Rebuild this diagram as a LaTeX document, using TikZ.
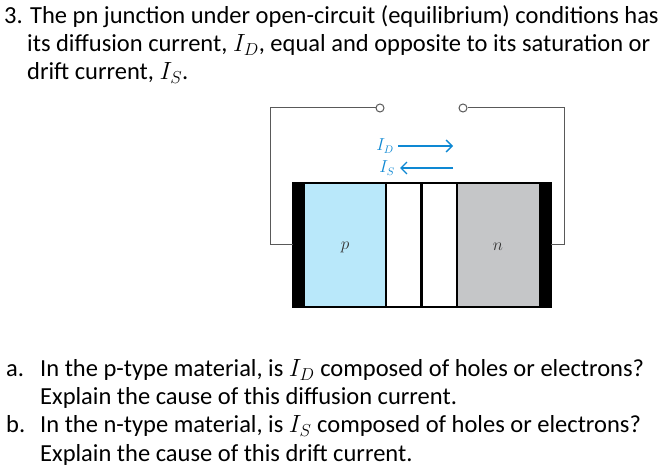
\documentclass[tikz,border=0pt]{standalone}
\usepackage{fontspec}
\setmainfont{Carlito}
\usetikzlibrary{arrows.meta}
\begin{document}
\begin{tikzpicture}[x=1pt,y=-1pt,
  txt/.style={anchor=base west,inner sep=0pt,font=\fontsize{24.5}{28}\selectfont},
  wire/.style={draw=gray!70!black,line width=1pt},
  lbl/.style={inner sep=0pt,text=cyan!70!blue,font=\fontsize{16}{18}\selectfont},
  cur/.style={draw=cyan!70!blue,line width=1.3pt,-{Straight Barb[length=6pt]}}]
\useasboundingbox (0,0) rectangle (665,473);
\node[txt] (t1) at (4,24) {3. The pn junction under open-circuit (equilibrium) conditions has};
\node[txt] (t2) at (27,52) {its diffusion current, $I_D$, equal and opposite to its saturation or};
\node[txt] (t3) at (27,80) {drift current, $I_S$.};
\node[txt] (a0) at (6,377) {a.};
\node[txt] (a1) at (40,377) {In the p-type material, is $I_D$ composed of holes or electrons?};
\node[txt] (a2) at (40,405) {Explain the cause of this diffusion current.};
\node[txt] (b0) at (6,433) {b.};
\node[txt] (b1) at (40,433) {In the n-type material, is $I_S$ composed of holes or electrons?};
\node[txt] (b2) at (40,462) {Explain the cause of this drift current.};
% device
\fill[black] (293,183) rectangle (304,307);
\fill[black] (540,183) rectangle (551,307);
\draw[fill={rgb,255:red,185;green,232;blue,250},line width=1.2pt] (304,183) rectangle (386,307);
\draw[fill=white,line width=1.2pt] (386,183) rectangle (421,307);
\draw[fill=white,line width=1.2pt] (422,183) rectangle (457,307);
\draw[fill={rgb,255:red,197;green,198;blue,200},line width=1.2pt] (457,183) rectangle (540,307);
\draw[line width=1.2pt] (293,183) rectangle (551,307);
\node[inner sep=0pt,font=\fontsize{16}{18}\selectfont,text=black!80] (p) at (345,247) {$p$};
\node[inner sep=0pt,font=\fontsize{16}{18}\selectfont,text=black!80] (n) at (498,247) {$n$};
% wires
\coordinate (lb) at (293,245);
\coordinate (rb) at (551,245);
\node[circle,draw=gray!70!black,line width=1pt,fill=white,inner sep=0pt,minimum size=8pt] (c1) at (380,108) {};
\node[circle,draw=gray!70!black,line width=1pt,fill=white,inner sep=0pt,minimum size=8pt] (c2) at (463,108) {};
\draw[wire] (lb) -- (270,245) -- (270,108) -- (c1.west);
\draw[wire] (rb) -- (564,245) -- (564,108) -- (c2.east);
% currents
\node[lbl] (id) at (385,146) {$I_D$};
\node[lbl] (is) at (387,168) {$I_S$};
\coordinate (a1s) at (398,146); \coordinate (a1e) at (453,146);
\coordinate (a2s) at (453,168); \coordinate (a2e) at (400,168);
\draw[cur] (a1s) -- (a1e);
\draw[cur] (a2s) -- (a2e);
\end{tikzpicture}
\end{document}
